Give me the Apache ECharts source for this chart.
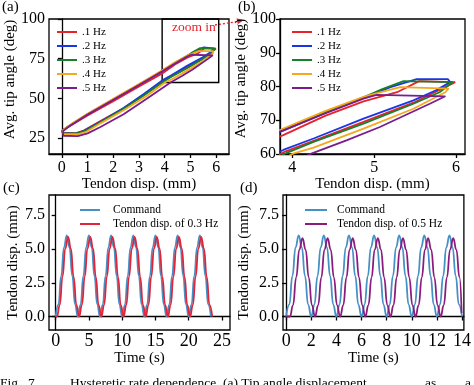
<!DOCTYPE html>
<html>
<head>
<meta charset="utf-8">
<script src="https://cdn.jsdelivr.net/npm/echarts@6/dist/echarts.min.js"></script>
<style>
html,body{margin:0;padding:0;background:#fff;}
#c{width:474px;height:385px;}
</style>
</head>
<body>
<div id="c"></div>
<script>
// ---------- data ----------
const hzNames = ['.1 Hz', '.2 Hz', '.3 Hz', '.4 Hz', '.5 Hz'];
const hz01 = [[0.02,28.5],[0.55,28.2],[0.85,29.8],[1.5,35.8],[2.4,43.8],[3.2,52.5],[3.92,60.8],[4.26,63.9],[4.87,69.5],[5.48,75.2],[5.8,79.0],[5.99,81.3],[5.99,81.6],[5.55,81.6],[5.28,78.3],[4.87,75.6],[4.4,71.3],[3.89,65.6],[3.0,57.5],[2.0,48.3],[1.0,39.2],[0.3,32.5],[0.02,30.0],[0.02,28.5]];
const hz02 = [[0.03,28.2],[0.55,27.8],[0.85,29.5],[1.5,35.3],[2.4,44.0],[3.2,53.0],[3.89,61.2],[4.26,64.6],[4.87,70.5],[5.48,75.9],[5.75,78.8],[5.93,81.3],[5.9,82.2],[5.52,82.2],[5.2,79.8],[4.87,76.6],[4.4,72.2],[3.89,66.9],[3.0,58.6],[2.0,49.3],[1.0,40.0],[0.3,32.8],[0.03,29.8],[0.03,28.2]];
const hz03 = [[0.03,28.0],[0.6,28.0],[0.9,29.5],[1.5,35.0],[2.4,43.5],[3.2,52.0],[3.94,60.4],[4.26,63.6],[4.87,69.0],[5.48,74.9],[5.8,78.3],[5.96,81.3],[5.96,81.6],[5.36,81.6],[5.1,79.2],[4.87,76.8],[4.4,72.4],[3.89,67.2],[3.0,58.8],[2.0,49.5],[1.0,40.1],[0.3,33.0],[0.03,30.0],[0.03,28.0]];
const hz04 = [[0.05,27.6],[0.65,27.5],[0.95,29.0],[1.5,34.3],[2.4,42.5],[3.3,51.5],[4.02,60.2],[4.26,61.9],[4.87,67.5],[5.48,73.4],[5.87,78.3],[5.91,79.4],[5.89,79.8],[5.32,79.8],[5.0,77.8],[4.87,76.9],[4.4,72.7],[3.89,67.5],[3.0,59.1],[2.0,49.8],[1.0,40.4],[0.3,33.2],[0.05,30.0],[0.05,27.6]];
const hz05 = [[0.05,26.5],[0.62,26.2],[1.0,28.0],[1.5,32.0],[2.4,40.0],[3.3,49.8],[4.24,60.2],[4.67,64.1],[5.07,68.0],[5.68,74.9],[5.87,77.1],[5.87,77.5],[5.03,77.5],[4.87,76.4],[4.4,72.0],[3.89,67.0],[3.0,58.5],[2.0,49.2],[1.0,39.8],[0.3,32.6],[0.05,29.5],[0.05,26.5]];
const zoomBox = [[3.9, 60], [6.1, 100]];

const tCmdC = [0,0.42,0.83,1.25,1.67,2.08,2.5,2.92,3.33,3.75,4.17,4.58,5,5.42,5.83,6.25,6.67,7.08,7.5,7.92,8.33,8.75,9.17,9.58,10,10.42,10.83,11.25,11.67,12.08,12.5,12.92,13.33,13.75,14.17,14.58,15,15.42,15.83,16.25,16.67,17.08,17.5,17.92,18.33,18.75,19.17,19.58,20,20.42,20.83,21.25,21.67,22.08,22.5,22.92,23.33];
const cmdC = [0,0.88,3,5.12,6,5.12,3,0.88, 0,0.88,3,5.12,6,5.12,3,0.88, 0,0.88,3,5.12,6,5.12,3,0.88, 0,0.88,3,5.12,6,5.12,3,0.88, 0,0.88,3,5.12,6,5.12,3,0.88, 0,0.88,3,5.12,6,5.12,3,0.88, 0,0.88,3,5.12,6,5.12,3,0.88, 0];
const tRespC = [0,0.2,0.62,1.03,1.45,1.87,2.28,2.7,3.12,3.53,3.95,4.37,4.78,5.2,5.62,6.03,6.45,6.87,7.28,7.7,8.12,8.53,8.95,9.37,9.78,10.2,10.62,11.03,11.45,11.87,12.28,12.7,13.12,13.53,13.95,14.37,14.78,15.2,15.62,16.03,16.45,16.87,17.28,17.7,18.12,18.53,18.95,19.37,19.78,20.2,20.62,21.03,21.45,21.87,22.28,22.7,23.12,23.53];
const respC = [0, 0,0.86,2.95,5.04,5.9,5.04,2.95,0.86, 0,0.86,2.95,5.04,5.9,5.04,2.95,0.86, 0,0.86,2.95,5.04,5.9,5.04,2.95,0.86, 0,0.86,2.95,5.04,5.9,5.04,2.95,0.86, 0,0.86,2.95,5.04,5.9,5.04,2.95,0.86, 0,0.86,2.95,5.04,5.9,5.04,2.95,0.86, 0,0.86,2.95,5.04,5.9,5.04,2.95,0.86, 0];

const tCmdD = [0,0.25,0.5,0.75,1,1.25,1.5,1.75,2,2.25,2.5,2.75,3,3.25,3.5,3.75,4,4.25,4.5,4.75,5,5.25,5.5,5.75,6,6.25,6.5,6.75,7,7.25,7.5,7.75,8,8.25,8.5,8.75,9,9.25,9.5,9.75,10,10.25,10.5,10.75,11,11.25,11.5,11.75,12,12.25,12.5,12.75,13,13.25,13.5,13.75,14];
const cmdD = [0,0.88,3,5.12,6,5.12,3,0.88, 0,0.88,3,5.12,6,5.12,3,0.88, 0,0.88,3,5.12,6,5.12,3,0.88, 0,0.88,3,5.12,6,5.12,3,0.88, 0,0.88,3,5.12,6,5.12,3,0.88, 0,0.88,3,5.12,6,5.12,3,0.88, 0,0.88,3,5.12,6,5.12,3,0.88, 0];
const tRespD = [0,0.3,0.55,0.8,1.05,1.3,1.55,1.8,2.05,2.3,2.55,2.8,3.05,3.3,3.55,3.8,4.05,4.3,4.55,4.8,5.05,5.3,5.55,5.8,6.05,6.3,6.55,6.8,7.05,7.3,7.55,7.8,8.05,8.3,8.55,8.8,9.05,9.3,9.55,9.8,10.05,10.3,10.55,10.8,11.05,11.3,11.55,11.8,12.05,12.3,12.55,12.8,13.05,13.3,13.55,13.8,13.97];
const respD = [0, 0,0.85,2.9,4.95,5.8,4.95,2.9,0.85, 0,0.85,2.9,4.95,5.8,4.95,2.9,0.85, 0,0.85,2.9,4.95,5.8,4.95,2.9,0.85, 0,0.85,2.9,4.95,5.8,4.95,2.9,0.85, 0,0.85,2.9,4.95,5.8,4.95,2.9,0.85, 0,0.85,2.9,4.95,5.8,4.95,2.9,0.85, 0,0.85,2.9,4.95,5.8,4.95,2.9, 0.25];

const aXTicks = [0,1,2,3,4,5,6];
const aYTicks = [25,50,75,100];
const bXTicks = [4,5,6];
const bYTicks = [60,70,80,90,100];
const cXTicks = [0,5,10,15,20,25];
const dXTicks = [0,2,4,6,8,10,12,14];
const cdYTicks = [0,2.5,5,7.5];

// ---------- styles ----------
const FONT = '"Liberation Serif", "Times New Roman", serif';
const hzColors = ['#e8212b', '#1a35e6', '#17802b', '#f5a81c', '#7a1c8c'];
const cmdColor = '#4590c4';
const resp3Color = '#e0243a';
const resp5Color = '#8b1c7e';
const loops = [hz01, hz02, hz03, hz04, hz05];

function zip(t, v) { return t.map((x, i) => [x, v[i]]); }

function xAx(grid, min, max, ticks, name, opts) {
  opts = opts || {};
  return {
    type: 'value', gridIndex: grid, min: min, max: max,
    name: name, nameLocation: 'middle', nameGap: opts.nameGap || 20,
    nameTextStyle: { fontSize: 15, color: '#000', fontFamily: FONT },
    axisLine: { show: true, lineStyle: { color: '#000', width: 1.3 } },
    axisTick: { show: true, customValues: ticks, length: 4, lineStyle: { color: '#000', width: 1.3 } },
    axisLabel: { customValues: ticks, fontSize: opts.fs || 16, color: '#000', margin: opts.margin || 6, fontFamily: FONT },
    splitLine: { show: false }
  };
}
function yAx(grid, min, max, ticks, name, opts) {
  opts = opts || {};
  return {
    type: 'value', gridIndex: grid, min: min, max: max,
    name: name, nameLocation: 'middle', nameGap: opts.nameGap || 30,
    nameTextStyle: { fontSize: 15, color: '#000', fontFamily: FONT, padding: opts.pad || 0 },
    axisLine: { show: true, lineStyle: { color: '#000', width: 1.3 } },
    axisTick: { show: true, customValues: ticks, length: 4, lineStyle: { color: '#000', width: 1.3 } },
    axisLabel: { customValues: ticks, fontSize: 16, color: '#000', margin: opts.margin || 4, fontFamily: FONT,
                 formatter: opts.fmt },
    splitLine: { show: false }
  };
}

const series = [];
loops.forEach((d, i) => {
  const s = {
    type: 'line', name: hzNames[i], xAxisIndex: 0, yAxisIndex: 0, data: d,
    symbol: 'none', lineStyle: { width: 1.8, color: hzColors[i] }, itemStyle: { color: hzColors[i] },
    animation: false
  };
  if (i === 0) {
    s.markArea = {
      silent: true,
      itemStyle: { color: 'rgba(0,0,0,0)', borderColor: '#000', borderWidth: 1.4 },
      data: [[{ coord: zoomBox[0] }, { coord: zoomBox[1] }]]
    };
  }
  series.push(s);
});
loops.forEach((d, i) => {
  series.push({
    type: 'line', name: hzNames[i], xAxisIndex: 1, yAxisIndex: 1, data: d, clip: true,
    symbol: 'none', lineStyle: { width: 1.8, color: hzColors[i] }, itemStyle: { color: hzColors[i] },
    animation: false
  });
});
series.push({ type: 'line', name: 'Command', xAxisIndex: 2, yAxisIndex: 2, data: zip(tCmdC, cmdC),
  symbol: 'none', smooth: 0.5, smoothMonotone: 'x', lineStyle: { width: 1.8, color: cmdColor }, itemStyle: { color: cmdColor }, animation: false });
series.push({ type: 'line', name: 'Tendon disp. of 0.3 Hz', xAxisIndex: 2, yAxisIndex: 2, data: zip(tRespC, respC),
  symbol: 'none', smooth: 0.5, smoothMonotone: 'x', lineStyle: { width: 1.8, color: resp3Color }, itemStyle: { color: resp3Color }, animation: false });
series.push({ type: 'line', name: 'Command', xAxisIndex: 3, yAxisIndex: 3, data: zip(tCmdD, cmdD),
  symbol: 'none', smooth: 0.5, smoothMonotone: 'x', lineStyle: { width: 1.8, color: cmdColor }, itemStyle: { color: cmdColor }, animation: false });
series.push({ type: 'line', name: 'Tendon disp. of 0.5 Hz', xAxisIndex: 3, yAxisIndex: 3, data: zip(tRespD, respD),
  symbol: 'none', smooth: 0.5, smoothMonotone: 'x', lineStyle: { width: 1.8, color: resp5Color }, itemStyle: { color: resp5Color }, animation: false });

const fmt1 = v => Number(v).toFixed(1);
const legendBase = {
  orient: 'vertical', icon: 'rect', itemWidth: 20, itemHeight: 2, itemGap: 2, padding: 0,
  textStyle: { fontSize: 11, lineHeight: 12, color: '#000', fontFamily: FONT },
  selectedMode: false
};

const option = {
  animation: false,
  textStyle: { fontFamily: FONT },
  grid: [
    { left: 49, top: 19, width: 180, height: 135, show: true, borderColor: '#000', borderWidth: 1.3 },
    { left: 280, top: 19, width: 185, height: 135, show: true, borderColor: '#000', borderWidth: 1.3 },
    { left: 49, top: 195, width: 181, height: 135, show: true, borderColor: '#000', borderWidth: 1.3 },
    { left: 283, top: 195, width: 182, height: 135, show: true, borderColor: '#000', borderWidth: 1.3 }
  ],
  xAxis: [
    xAx(0, -0.5, 6.5, aXTicks, 'Tendon disp. (mm)', { nameGap: 20 }),
    xAx(1, 3.85, 6.11, bXTicks, 'Tendon disp. (mm)', { nameGap: 20 }),
    xAx(2, -1, 26.2, cXTicks, 'Time (s)', { nameGap: 20, fs: 18, margin: 2 }),
    xAx(3, -0.25, 14.15, dXTicks, 'Time (s)', { nameGap: 20, fs: 18, margin: 2 })
  ],
  yAxis: [
    yAx(0, 15, 100, aYTicks, 'Avg. tip angle (deg)', { nameGap: 31, pad: [0, 0, 0, 14] }),
    yAx(1, 60, 100, bYTicks, 'Avg. tip angle (deg)', { nameGap: 25, pad: [0, 0, 0, 16] }),
    yAx(2, -1, 9, cdYTicks, 'Tendon disp. (mm)', { nameGap: 28, fmt: fmt1 }),
    yAx(3, -1, 9, cdYTicks, 'Tendon disp. (mm)', { nameGap: 31, fmt: fmt1 })
  ],
  legend: [
    Object.assign({}, legendBase, { left: 57, top: 26, data: hzNames }),
    Object.assign({}, legendBase, { left: 292, top: 26, data: hzNames }),
    Object.assign({}, legendBase, { left: 80, top: 204, itemGap: 2,
      textStyle: { fontSize: 11.5, lineHeight: 12, color: '#000', fontFamily: FONT, padding: [0, 0, 0, 8] },
      data: ['Command', 'Tendon disp. of 0.3 Hz'] }),
    Object.assign({}, legendBase, { left: 305, top: 204, itemWidth: 22, itemGap: 2,
      textStyle: { fontSize: 11.5, lineHeight: 12, color: '#000', fontFamily: FONT, padding: [0, 0, 0, 5] },
      data: ['Command', 'Tendon disp. of 0.5 Hz'] })
  ],
  graphic: [
    { type: 'text', left: 2, top: 0, style: { text: '(a)', fontSize: 15, fontFamily: FONT, fill: '#000' } },
    { type: 'text', left: 238, top: 0, style: { text: '(b)', fontSize: 15, fontFamily: FONT, fill: '#000' } },
    { type: 'text', left: 3, top: 181, style: { text: '(c)', fontSize: 15, fontFamily: FONT, fill: '#000' } },
    { type: 'text', left: 240, top: 181, style: { text: '(d)', fontSize: 15, fontFamily: FONT, fill: '#000' } },
    { type: 'text', left: 172, top: 20, style: { text: 'zoom in', fontSize: 13.5, fontFamily: FONT, fill: '#e8202a' } },
    { type: 'polyline', shape: { points: [[215, 25], [238, 21.5]] },
      style: { stroke: '#e8202a', lineWidth: 1.3, lineDash: [2, 2], fill: null } },
    { type: 'polygon', shape: { points: [[243.5, 20.2], [236.5, 18.2], [237.8, 24.2]] },
      style: { fill: '#e8202a' } },
    { type: 'text', left: 0, top: 376, style: { text: 'Fig.', fontSize: 13.5, fontFamily: FONT, fill: '#000' } },
    { type: 'text', left: 28, top: 376, style: { text: '7.', fontSize: 13.5, fontFamily: FONT, fill: '#000' } },
    { type: 'text', left: 70, top: 376, style: { text: 'Hysteretic rate dependence. (a) Tip angle displacement', fontSize: 13.5, fontFamily: FONT, fill: '#000' } },
    { type: 'text', left: 425, top: 376, style: { text: 'as', fontSize: 13.5, fontFamily: FONT, fill: '#000' } },
    { type: 'text', left: 465, top: 376, style: { text: 'a', fontSize: 13.5, fontFamily: FONT, fill: '#000' } }
  ],
  series: series
};

const chart = echarts.init(document.getElementById('c'), null, { renderer: 'canvas' });
chart.setOption(option);
</script>
</body>
</html>
